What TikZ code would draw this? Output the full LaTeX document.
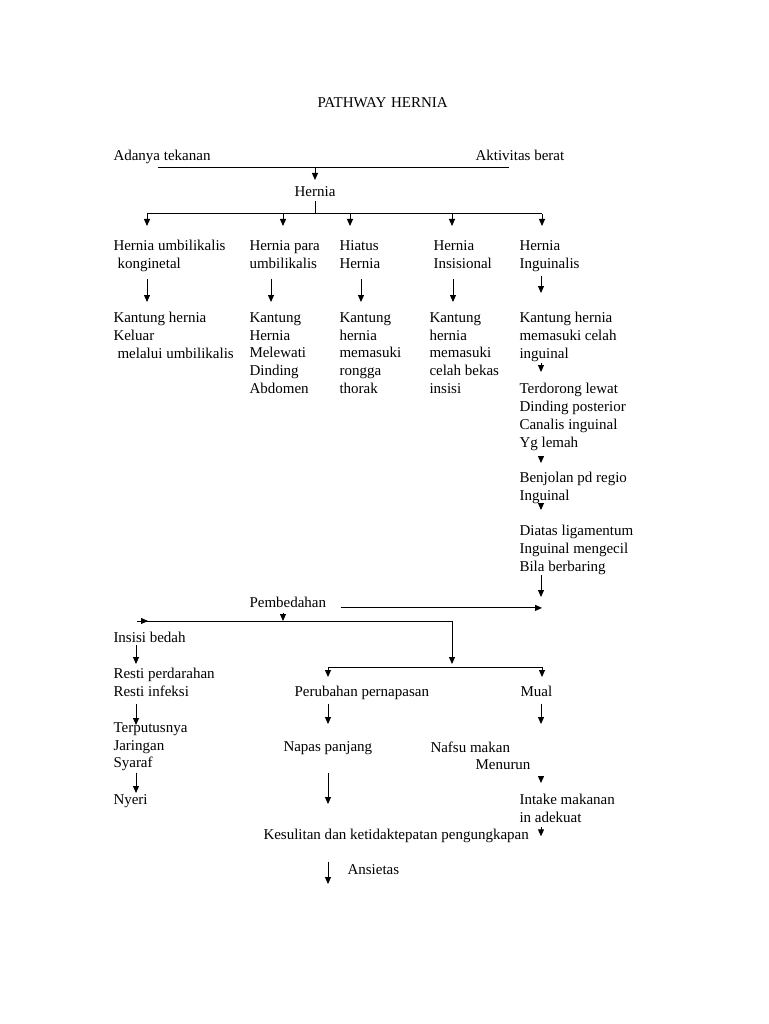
\documentclass[tikz,border=0pt]{standalone}
\usepackage{fontspec}
\setmainfont{Liberation Serif}
\usetikzlibrary{arrows.meta}

\begin{document}
\begin{tikzpicture}[x=1pt, y=-1pt, line width=1pt,
    txt/.style={anchor=north west, align=left, inner sep=0pt,
      font=\fontsize{15}{17.8}\selectfont},
    arr/.style={-{Triangle[length=7pt,width=6pt]}}]

  \useasboundingbox (0,0) rectangle (768,1024);

  % columns for the arrows
  \coordinate (cA) at (136,0);
  \coordinate (c1) at (147,0);
  \coordinate (c2) at (271,0);
  \coordinate (c3) at (361,0);
  \coordinate (c4) at (453,0);
  \coordinate (c5) at (541,0);

  \node[txt] (title) at (317,97) {PATHWAY\hspace{1pt} HERNIA};

  \node[txt] (tekanan) at (113,150) {Adanya tekanan};
  \node[txt] (aktivitas) at (475,150) {Aktivitas berat};
  \node[txt, anchor=north] (hernia) at (315,186) {Hernia};

  % jenis hernia
  \node[txt] (umb) at (113,240) {Hernia umbilikalis\\\hspace*{4pt}konginetal};
  \node[txt] (para) at (249,240) {Hernia para\\umbilikalis};
  \node[txt] (hiatus) at (339,240) {Hiatus\\Hernia};
  \node[txt] (insis) at (433,240) {Hernia\\Insisional};
  \node[txt] (ingu) at (519,240) {Hernia\\Inguinalis};

  \node[txt] (kant1) at (113,312) {Kantung hernia\\Keluar\\\hspace*{4pt}melalui umbilikalis};
  \node[txt] (kant2) at (249,312) {Kantung\\Hernia\\Melewati\\Dinding\\Abdomen};
  \node[txt] (kant3) at (339,312) {Kantung\\hernia\\memasuki\\rongga\\thorak};
  \node[txt] (kant4) at (429,312) {Kantung\\hernia\\memasuki\\celah bekas\\insisi};
  \node[txt] (kant5) at (519,312) {Kantung hernia\\memasuki celah\\inguinal};

  \node[txt] (dorong) at (519,383) {Terdorong lewat\\Dinding posterior\\Canalis inguinal\\Yg lemah};
  \node[txt] (benjol) at (519,472) {Benjolan pd regio\\Inguinal};
  \node[txt] (diatas) at (519,525) {Diatas ligamentum\\Inguinal mengecil\\Bila berbaring};

  % pembedahan
  \node[txt] (bedah) at (249,597) {Pembedahan};
  \node[txt] (insisi) at (113,632) {Insisi bedah};
  \node[txt] (resti) at (113,668) {Resti perdarahan\\Resti infeksi};
  \node[txt] (putus) at (113,722) {Terputusnya\\Jaringan\\Syaraf};
  \node[txt] (nyeri) at (113,794) {Nyeri};

  \node[txt] (ubah) at (294,686) {Perubahan pernapasan};
  \node[txt] (napas) at (283,741) {Napas panjang};
  \node[txt] (kesul) at (263,829) {Kesulitan dan ketidaktepatan pengungkapan};
  \node[txt] (ansietas) at (347,864) {Ansietas};

  \node[txt] (mual) at (520,686) {Mual};
  \node[txt] (nafsu) at (430,741) {Nafsu makan\\\hspace*{45pt}Menurun};
  \node[txt] (intake) at (519,794) {Intake makanan\\in adekuat};

  % free points of the lines
  \coordinate (barL) at (158,168);
  \coordinate (barR) at (509,168);
  \coordinate (brL) at (147,214);
  \coordinate (brR) at (542,214);
  \coordinate (b2) at (283,214);
  \coordinate (b3) at (350,214);
  \coordinate (b4) at (452,214);
  \coordinate (jn) at (541,597);
  \coordinate (opL) at (137,621);
  \coordinate (opT) at (148,621);
  \coordinate (opR) at (452,621);
  \coordinate (spL) at (328,667);
  \coordinate (spR) at (542,667);
  \coordinate (ujung) at (328,884);

  \draw (barL) -- (barR);
  \draw[arr, shorten >=6pt] (barL -| hernia.north) -- (hernia.north);
  \draw[shorten <=4pt] (hernia.south) -- (hernia.south |- brL);
  \draw (brL) -- (brR);
  \draw[arr, shorten >=14pt] (brL) -- (brL |- umb.north);
  \draw[arr, shorten >=14pt] (b2) -- (b2 |- para.north);
  \draw[arr, shorten >=14pt] (b3) -- (b3 |- hiatus.north);
  \draw[arr, shorten >=14pt] (b4) -- (b4 |- insis.north);
  \draw[arr, shorten >=14pt] (brR) -- (brR |- ingu.north);

  \draw[arr, shorten <=7pt, shorten >=10pt] (umb.south -| c1) -- (kant1.north -| c1);
  \draw[arr, shorten <=10pt, shorten >=10pt] (para.south -| c2) -- (kant2.north -| c2);
  \draw[arr, shorten <=10pt, shorten >=10pt] (hiatus.south -| c3) -- (kant3.north -| c3);
  \draw[arr, shorten <=10pt, shorten >=10pt] (insis.south -| c4) -- (kant4.north -| c4);
  \draw[arr, shorten <=4pt, shorten >=19pt] (ingu.south -| c5) -- (kant5.north -| c5);

  \draw[arr, shorten <=1pt, shorten >=11pt] (kant5.south -| c5) -- (dorong.north -| c5);
  \draw[arr, shorten <=6pt, shorten >=9pt] (dorong.south -| c5) -- (benjol.north -| c5);
  \draw[arr, shorten >=15pt] (benjol.south -| c5) -- (diatas.north -| c5);
  \draw[arr] (diatas.south -| c5) -- (jn);

  \draw[arr, shorten <=14pt] (bedah.base east) -- (bedah.base east -| brR);
  \draw[arr, shorten <=4pt] (bedah.south -| b2) -- (b2 |- opL);
  \draw (opL) -- (opR);
  \draw[arr] (opL) -- (opT);
  \draw[arr, shorten >=3pt] (opR) -- (opR |- spL);
  \draw (spL) -- (spR);
  \draw[arr, shorten >=9pt] (spL) -- (spL |- ubah.north);
  \draw[arr, shorten >=9pt] (spR) -- (spR |- mual.north);

  \draw[arr, shorten <=1pt, shorten >=4pt] (insisi.south -| cA) -- (resti.north -| cA);
  \draw[arr, shorten <=7pt, shorten >=-3pt] (resti.south -| cA) -- (putus.north -| cA);
  \draw[arr, shorten <=1pt, shorten >=1pt] (putus.south -| cA) -- (nyeri.north -| cA);

  \draw[arr, shorten <=3pt, shorten >=17pt] (ubah.south -| spL) -- (napas.north -| spL);
  \draw[arr, shorten <=18pt, shorten >=25pt] (napas.south -| spL) -- (kesul.north -| spL);
  \draw[arr, shorten <=18pt] (kesul.south -| spL) -- (ujung);

  \draw[arr, shorten <=6pt, shorten >=17pt] (mual.south -| c5) -- (nafsu.north -| c5);
  \draw[arr, shorten <=8pt, shorten >=11pt] (nafsu.south -| c5) -- (intake.north -| c5);
  \draw[arr, shorten <=4pt] (intake.south -| c5) -- (kesul.east -| c5);

\end{tikzpicture}
\end{document}
